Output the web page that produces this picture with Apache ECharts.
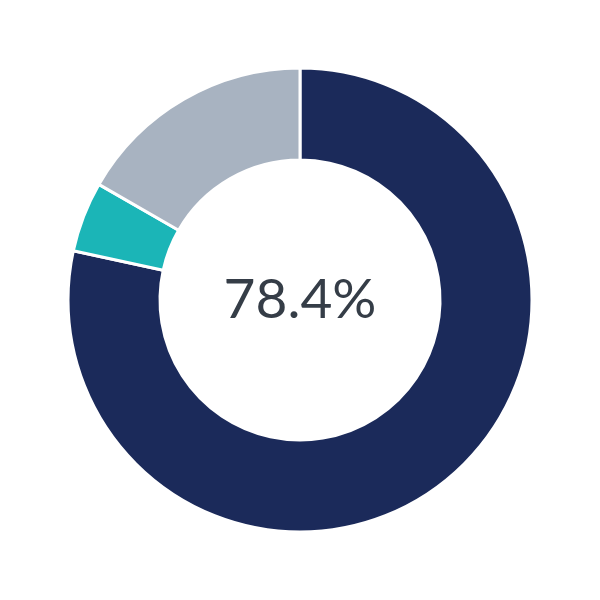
<!DOCTYPE html>
<html>
<head>
<meta charset="utf-8">
<script src="https://cdn.jsdelivr.net/npm/echarts@6/dist/echarts.min.js"></script>
<style>
  html, body { margin: 0; padding: 0; background: #fff; }
  #chart { width: 600px; height: 600px; }
</style>
</head>
<body>
<div id="chart"></div>
<script>
const names = ["Navy", "Teal", "Gray"];
const values = [78.4, 4.9, 16.7];
const colors = ["#1b2a5a", "#1bb5b7", "#a8b3c1"];
const centerLabel = "78.4%";

const chart = echarts.init(document.getElementById("chart"));
chart.setOption({
  animation: false,
  title: {
    text: centerLabel,
    left: "center",
    top: "middle",
    textStyle: {
      fontFamily: "Lato",
      fontWeight: "normal",
      fontSize: 55,
      color: "#353d47"
    }
  },
  series: [
    {
      type: "pie",
      center: [300, 300],
      radius: [140, 232],
      startAngle: 90,
      clockwise: true,
      label: { show: false },
      labelLine: { show: false },
      itemStyle: { borderColor: "#fff", borderWidth: 3 },
      emphasis: { disabled: true },
      data: names.map((n, i) => ({
        name: n,
        value: values[i],
        itemStyle: { color: colors[i] }
      }))
    }
  ]
});
</script>
</body>
</html>
